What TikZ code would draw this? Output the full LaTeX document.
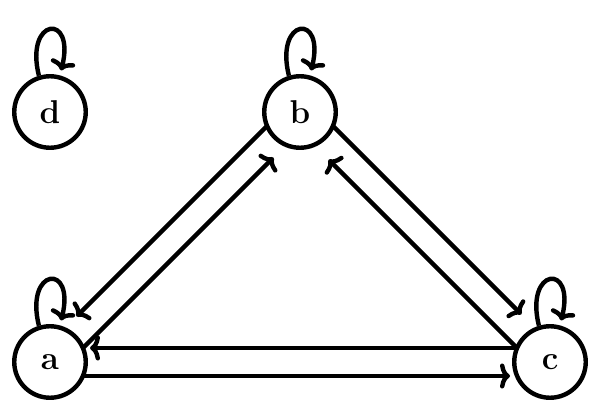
\documentclass[tikz,border=0pt]{standalone}
\usetikzlibrary{arrows.meta,calc}
\begin{document}
\begin{tikzpicture}[x=1pt,y=1pt,
  state/.style={circle,draw,line width=4.4pt,minimum size=71.5pt,inner sep=0pt,
    font=\fontsize{33}{40}\selectfont\bfseries},
  arr/.style={line width=4.4pt,-{To[length=10pt,width=25pt]}},
  selfloop/.style={arr}]
\useasboundingbox (0,0) rectangle (600,413);
\node[state] (d) at (50,301) {d};
\node[state] (b) at (300,301) {b};
\node[state] (a) at (50,51) {a};
\node[state] (c) at (550,51) {c};
% loops
\foreach \n in {a,b,c,d}{
  \draw[selfloop] (\n.107) .. controls +(104:60) and +(76:60) .. ($(\n)+(75:43)$);
}
% a <-> b
\draw[arr] ($(a)+(32.2,13.1)$) -- ($(b)+(-26.5,-45.6)$);
\draw[arr] ($(b)+(-32.9,-13.8)$) -- ($(a)+(26.5,45.6)$);
% b <-> c
\draw[arr] ($(b)+(32.9,-13.8)$) -- ($(c)+(-28.6,47.7)$);
\draw[arr] ($(c)+(-32.9,13.8)$) -- ($(b)+(28.6,-47.7)$);
% a <-> c
\draw[arr] ($(a)+(33,-14)$) -- ($(c)+(-40,-14)$);
\draw[arr] ($(c)+(-34,14)$) -- ($(a)+(40,14)$);
\end{tikzpicture}
\end{document}
